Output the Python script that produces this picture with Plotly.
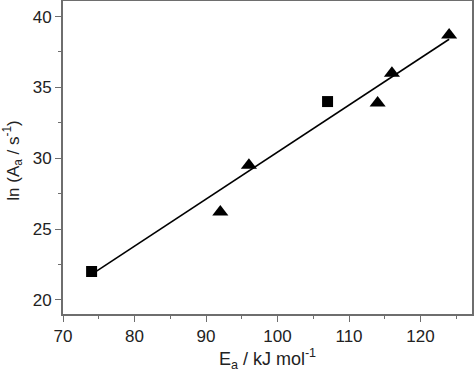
import plotly.graph_objects as go

sq_x = [74, 107]
sq_y = [22.0, 34.0]
tri_x = [92, 96, 114, 116, 124]
tri_y = [26.2, 29.5, 33.9, 36.0, 38.7]
fit_x = [74, 124]
fit_y = [21.8, 38.4]

x_ticks = [70, 80, 90, 100, 110, 120]
y_ticks = [20, 25, 30, 35, 40]

fig = go.Figure()
fig.add_trace(go.Scatter(x=fit_x, y=fit_y, mode="lines",
                         line=dict(color="black", width=1.6), showlegend=False))
fig.add_trace(go.Scatter(x=sq_x, y=sq_y, mode="markers",
                         marker=dict(symbol="square", size=11, color="black"), showlegend=False))
fig.add_trace(go.Scatter(x=tri_x, y=tri_y, mode="markers",
                         marker=dict(symbol="triangle-up", size=14, color="black"), showlegend=False))

axis_common = dict(showline=True, linecolor="#6e6e6e", linewidth=2, mirror=True,
                   ticks="outside", ticklen=6, tickwidth=1, tickcolor="#6e6e6e",
                   showgrid=False, zeroline=False, automargin=False,
                   tickfont=dict(family="Liberation Sans, Arial", size=17, color="#222"))

fig.update_xaxes(range=[70, 127.2], tickvals=x_ticks,
                 minor=dict(ticks="outside", dtick=5, tick0=75, ticklen=3, tickcolor="#6e6e6e"),
                 title=dict(text="E<sub>a</sub> / kJ mol<sup>-1</sup>", standoff=3,
                            font=dict(family="Liberation Sans, Arial", size=18, color="#222")),
                 **axis_common)
fig.update_yaxes(range=[19.0, 41.1], tickvals=y_ticks,
                 minor=dict(ticks="outside", dtick=2.5, tick0=22.5, ticklen=3, tickcolor="#6e6e6e"),
                 **axis_common)

fig.add_annotation(text="ln (A<sub>a</sub> / s<sup>-1</sup>)", textangle=-90,
                   xref="paper", yref="paper", x=-0.122, y=0.49,
                   xanchor="center", yanchor="middle", showarrow=False,
                   font=dict(family="Liberation Sans, Arial", size=17, color="#222"))

fig.update_layout(width=474, height=372, margin=dict(l=63, r=2, t=1, b=58),
                  plot_bgcolor="white", paper_bgcolor="white")
fig.write_html("out.html", config={"displayModeBar": False},
               post_script="document.body.style.margin='0';document.body.style.overflow='hidden';")
